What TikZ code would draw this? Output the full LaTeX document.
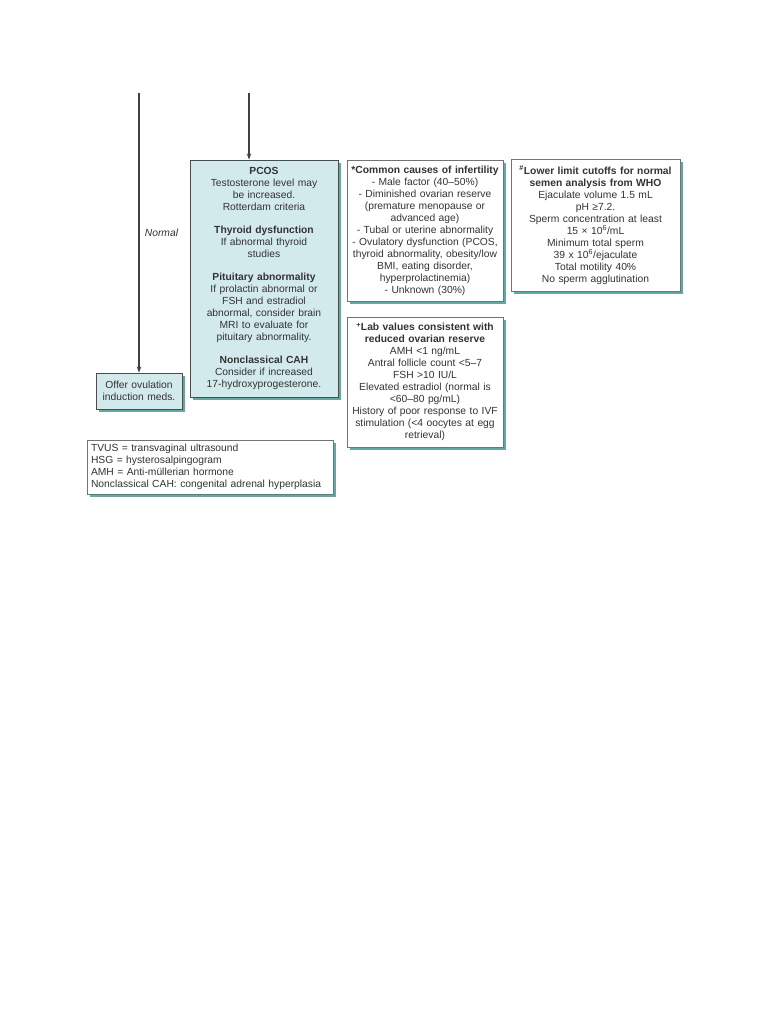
\documentclass[tikz,border=0pt]{standalone}
\usepackage{fontspec}
\setmainfont{Liberation Sans}
\usetikzlibrary{calc, arrows, arrows.meta, positioning, shadows}

\definecolor{boxteal}{HTML}{D3EAEC}
\definecolor{shadeteal}{HTML}{5FAAA6}
\definecolor{inkgray}{HTML}{333333}

\begin{document}
\begin{tikzpicture} [x=1pt, y=-1pt,
		% define styles
		basicnodestyle/.style={
			% The shape:
			rectangle,
			% The size:
			inner sep=0pt,
			% The border:
			line width=0.9pt,
			draw=black!70,
			% The filling:
			fill=boxteal,
			drop shadow={shadow xshift=3pt, shadow yshift=-3pt, fill=shadeteal, opacity=1},
			% Font
			text=inkgray,
			align=center,
			font=\fontsize{10.3}{12}\selectfont
		},
		notenodestyle/.style={
			basicnodestyle,
			draw=black!55,
			fill=white
		},
		arrow/.style={
			-{Stealth[length=6pt, width=4.5pt]},
			% Thickness
			line width=1.1pt,
			% Color
			black!75,
			text=inkgray,
			font=\fontsize{10.3}{12}\selectfont\itshape
		}]
		% end of style definition

		\useasboundingbox (0,0) rectangle (768,1024);

		% draw nodes
		\coordinate (iTopLeft) at (139,93);
		\coordinate (iTopRight) at (249,93);

		\node (iOffer) [basicnodestyle, minimum width=86pt, minimum height=36pt, text width=84pt] at (139,391)
			{Offer ovulation\\induction meds.};

		\node (iPcos) [basicnodestyle, minimum width=148pt, minimum height=237pt, text width=146pt] at (264,278.5)
			{\textbf{PCOS}\\Testosterone level may\\be increased.\\Rotterdam criteria\\[11pt]
			\textbf{Thyroid dysfunction}\\If abnormal thyroid\\studies\\[11pt]
			\textbf{Pituitary abnormality}\\If prolactin abnormal or\\FSH and estradiol\\abnormal, consider brain\\MRI to evaluate for\\pituitary abnormality.\\[11pt]
			\textbf{Nonclassical CAH}\\Consider if increased\\17-hydroxyprogesterone.};

		\node (iCauses) [notenodestyle, minimum width=156pt, minimum height=141pt, text width=156pt] at (425,230.5)
			{\textbf{*Common causes of infertility}\\- Male factor (40–50\%)\\- Diminished ovarian reserve\\(premature menopause or\\advanced age)\\- Tubal or uterine abnormality\\- Ovulatory dysfunction (PCOS,\\thyroid abnormality, obesity/low\\BMI, eating disorder,\\hyperprolactinemia)\\- Unknown (30\%)};

		\node (iSemen) [notenodestyle, minimum width=169pt, minimum height=132pt, text width=167pt] at (595.5,225)
			{\textbf{\textsuperscript{\#}Lower limit cutoffs for normal}\\\textbf{semen analysis from WHO}\\Ejaculate volume 1.5 mL\\pH ≥7.2.\\Sperm concentration at least\\15 × 10\textsuperscript{6}/mL\\Minimum total sperm\\39 x 10\textsuperscript{6}/ejaculate\\Total motility 40\%\\No sperm agglutination};

		\node (iReserve) [notenodestyle, minimum width=156pt, minimum height=130pt, text width=156pt] at (425,382)
			{\textbf{\textsuperscript{+}Lab values consistent with}\\\textbf{reduced ovarian reserve}\\AMH <1 ng/mL\\Antral follicle count <5–7\\FSH >10 IU/L\\Elevated estradiol (normal is\\<60–80 pg/mL)\\History of poor response to IVF\\stimulation (<4 oocytes at egg\\retrieval)};

		\node (iAbbrev) [notenodestyle, minimum width=246pt, minimum height=54pt, text width=238pt, align=left] at (210,467)
			{TVUS = transvaginal ultrasound\\HSG = hysterosalpingogram\\AMH = Anti-müllerian hormone\\Nonclassical CAH: congenital adrenal hyperplasia};

		% connect nodes
		\draw [arrow] (iTopLeft) -- node[anchor=west, xshift=2pt] {Normal} (iOffer);
		\draw [arrow] (iTopRight) -- (iTopRight |- iPcos.north);
	\end{tikzpicture}
\end{document}
